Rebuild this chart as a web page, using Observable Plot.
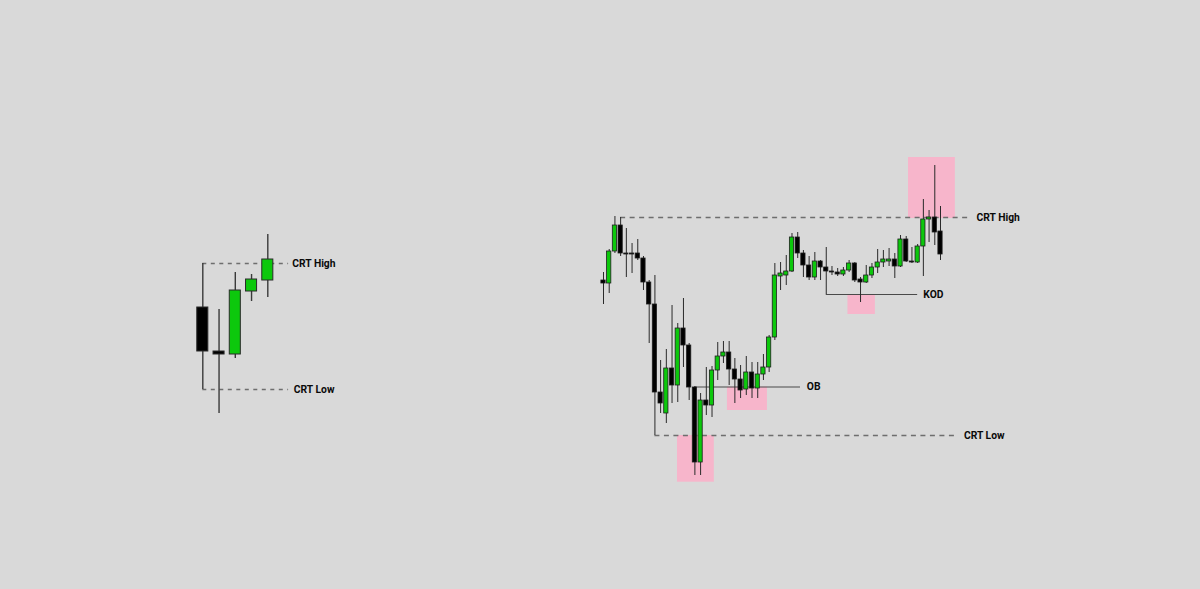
<!DOCTYPE html>
<html>
<head>
<meta charset="utf-8">
<script src="https://cdn.jsdelivr.net/npm/d3@7"></script>
<script src="https://cdn.jsdelivr.net/npm/@observablehq/plot@0.6"></script>
<style>
  html, body { margin: 0; padding: 0; background: #d9d9d9; }
  #wrap { position: relative; width: 1200px; height: 589px; background: #d9d9d9; overflow: hidden; }
  #wrap svg { position: absolute; left: 0; top: 0; background: transparent; }
</style>
</head>
<body>
<div id="wrap"></div>
<script>
// ---- Left (CRT concept) candles ----
const leftOpen  = [282, 238, 235, 298, 309];
const leftHigh  = [326, 280, 317, 315, 355];
const leftLow   = [200, 176, 231, 288, 292];
const leftClose = [238, 235, 299, 310, 330];

// ---- Right (market example) candles ----
const rightOpen  = [309,306,338,364,336,336,336,331,307,285, 197,176,221,204,261,244,202,127,189,184, 219,233,237,220,210,200,217,201,215,222, 252,313,314,318,352,336,324,312,328,322, 318,317,315,319,326,310,307,314,322,327, 328,330,323,350,328,327,343,370,372,358];
const rightHigh  = [317,340,373,372,361,346,350,333,309,314, 229,240,284,266,291,246,203,196,222,223, 247,248,248,231,224,233,227,227,235,254, 326,327,334,356,357,339,333,337,329,342, 323,321,322,329,327,312,324,326,340,339, 341,336,354,353,342,345,390,379,424,383];
const rightLow   = [285,296,336,333,312,316,329,299,246,154, 176,166,186,187,222,189,114,114,174,172, 209,226,204,186,191,194,191,191,209,217, 249,299,304,317,331,312,309,309,309,295, 314,313,313,317,307,287,306,311,316,322, 323,311,322,327,326,326,313,347,344,329];
const rightClose = [306,338,364,336,335,335,331,307,285,197, 186,221,204,261,244,202,127,189,184,219, 233,237,220,210,199,217,201,215,222,252, 314,316,318,352,336,324,312,328,322,318, 317,315,319,326,309,307,314,322,327,330, 330,323,350,328,327,343,370,372,357,335];

// Annotation zones (candle index span, price span)
const zoneNames = ["sweep high", "KOD", "OB", "sweep low"];
const zoneX1 = [53.4, 42.8, 21.7, 12.95];
const zoneX2 = [61.6, 47.6, 28.7, 19.4];
const zoneTop = [432, 295, 202.3, 154];
const zoneBottom = [371, 275, 179, 107.3];

// Level lines
const rightLevelNames = ["CRT High", "CRT Low", "OB", "KOD"];
const rightLevelStart = [3, 9, 16, 39];
const rightLevelEnd   = [64.4, 62.1, 34.5, 55];
const rightLevelPrice = [372, 154, 202.5, 295];
const rightLevelDashed = [true, true, false, false];
const rightLabelAt = [65.3, 63.1, 35.6, 56];

const leftLevelNames = ["CRT High", "CRT Low"];
const leftLevelStart = [0, 0];
const leftLevelEnd = [5.28, 5.28];
const leftLevelPrice = [326, 200];
const leftLabelAt = [5.5, 5.6];

const GREEN = "#0cc80c";
const PINK = "#f7b5cb";

function candles(o, h, l, c) {
  return o.map((v, i) => ({i, o: v, h: h[i], l: l[i], c: c[i]}));
}

const leftData = candles(leftOpen, leftHigh, leftLow, leftClose);
const rightData = candles(rightOpen, rightHigh, rightLow, rightClose);

const zones = zoneNames.map((n, k) => ({n, x1: zoneX1[k], x2: zoneX2[k], y1: zoneBottom[k], y2: zoneTop[k]}));
const rLevels = rightLevelNames.map((n, k) => ({n, x1: rightLevelStart[k], x2: rightLevelEnd[k], y: rightLevelPrice[k], dashed: rightLevelDashed[k], lx: rightLabelAt[k]}));
const lLevels = leftLevelNames.map((n, k) => ({n, x1: leftLevelStart[k], x2: leftLevelEnd[k], y: leftLevelPrice[k], lx: leftLabelAt[k]}));

const common = {
  width: 1200, height: 589,
  marginTop: 0, marginRight: 0, marginBottom: 0, marginLeft: 0,
  y: {domain: [0, 589], axis: null},
  style: {background: "transparent", fontFamily: "Roboto, 'Liberation Sans', sans-serif"}
};

const labelStyle = {textAnchor: "start", fontWeight: "bold", fontSize: 10.3, fill: "#0a0a0a", fontFamily: "Roboto, sans-serif"};

const leftPlot = Plot.plot({
  ...common,
  x: {domain: [0, 4], range: [202.3, 267.3], axis: null},
  marks: [
    Plot.ruleY(lLevels, {y: "y", x1: "x1", x2: "x2", stroke: "#6e6e6e", strokeWidth: 1.4, strokeDasharray: "4,4.5"}),
    Plot.ruleX(leftData, {x: "i", y1: "l", y2: "h", stroke: "#3a3a3a", strokeWidth: 1.4}),
    Plot.rect(leftData, {
      x1: d => d.i - 0.34, x2: d => d.i + 0.34, y1: "o", y2: "c",
      fill: d => d.c > d.o ? GREEN : "#000", stroke: "#2a2a2a", strokeWidth: 1
    }),
    Plot.text(lLevels, {x: "lx", y: "y", text: "n", ...labelStyle})
  ]
});

const rightPlot = Plot.plot({
  ...common,
  x: {domain: [0, 59], range: [603, 940], axis: null},
  marks: [
    Plot.rect(zones, {x1: "x1", x2: "x2", y1: "y1", y2: "y2", fill: PINK}),
    Plot.ruleY(rLevels.filter(d => d.dashed), {y: "y", x1: "x1", x2: "x2", stroke: "#6e6e6e", strokeWidth: 1.4, strokeDasharray: "5,4.5"}),
    Plot.ruleY(rLevels.filter(d => !d.dashed), {y: "y", x1: "x1", x2: "x2", stroke: "#4a4a4a", strokeWidth: 1.2}),
    Plot.ruleX(rightData, {x: "i", y1: "l", y2: "h", stroke: "#2a2a2a", strokeWidth: 1}),
    Plot.rect(rightData, {
      x1: d => d.i - 0.37, x2: d => d.i + 0.37, y1: "o", y2: "c",
      fill: d => d.c > d.o ? GREEN : "#000", stroke: "#1e1e1e", strokeWidth: 0.8
    }),
    Plot.text(rLevels, {x: "lx", y: "y", text: "n", ...labelStyle})
  ]
});

const wrap = document.getElementById("wrap");
wrap.appendChild(leftPlot);
wrap.appendChild(rightPlot);
</script>
</body>
</html>
